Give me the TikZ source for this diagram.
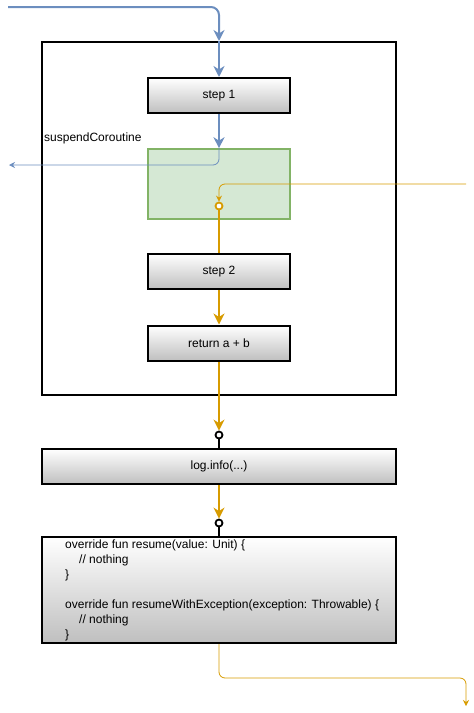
\documentclass[tikz,border=0pt]{standalone}
\usepackage{fontspec}
\setmainfont{Liberation Sans}
\usepackage{tikz}
\usetikzlibrary{arrows.meta,positioning}
\definecolor{flowblue}{HTML}{6C8EBF}
\definecolor{floworange}{HTML}{D79B00}
\definecolor{stategreen}{HTML}{82B366}
\definecolor{statefill}{HTML}{D5E8D4}
\tikzset{
  stepbox/.style={draw=black,line width=2pt,top color=white,bottom color=black!25,minimum width=142,minimum height=35,inner sep=0,font=\fontsize{12}{15}\selectfont},
  widebox/.style={stepbox,minimum width=354},
  frame/.style={draw=black,line width=2pt,minimum width=354,minimum height=353,inner sep=0},
  suspbox/.style={draw=stategreen,line width=1.6pt,fill=statefill,minimum width=142,minimum height=70,inner sep=0},
  port/.style={circle,draw=black,line width=1.8pt,fill=white,minimum size=7,inner sep=0},
  oport/.style={port,draw=floworange},
  lbl/.style={font=\fontsize{12}{15}\selectfont,inner sep=0},
  bluearr/.style={-{Stealth[length=11pt,width=11pt,inset=3.5pt]},draw=flowblue,line width=2pt},
  bluethin/.style={-{Stealth[length=6pt,width=6pt,inset=2pt]},draw=flowblue,line width=0.8pt},
  orangeline/.style={draw=floworange,line width=2pt},
  orangearr/.style={orangeline,-{Stealth[length=11pt,width=11pt,inset=3.5pt]}},
  orangethin/.style={-{Stealth[length=6pt,width=6pt,inset=2pt]},draw=floworange,line width=0.8pt},
  link/.style={draw=black,line width=2pt},
}
\begin{document}
\begin{tikzpicture}[x=1pt,y=-1pt]
  \useasboundingbox (0,0) rectangle (474,713);
  % coroutine body
  \node[frame] (outer) at (219,218.5) {};
  \node[stepbox] (step1) at (219,95.5) {step 1};
  \node[suspbox] (susp) at (219,184) {};
  \node[stepbox] (step2) at (219,271.5) {step 2};
  \node[stepbox] (ret) at (219,343) {return a + b};
  \node[lbl,anchor=west] (susplbl) at (44,138) {suspendCoroutine};
  \node[oport] (p1) at (219,206) {};
  % caller side
  \node[port] (p2) at (219,435) {};
  \node[widebox] (log) at (219,466.5) {log.info(...)};
  \node[port] (p3) at (219,523) {};
  \node[widebox,minimum height=106] (code) at (219,590) {};
  \node[lbl,anchor=west,align=left] (codetxt) at ([xshift=24]code.west) {override fun resume(value: Unit) \{\\
\hspace*{14pt}// nothing\\
\}\\[15pt]
override fun resumeWithException(exception: Throwable) \{\\
\hspace*{14pt}// nothing\\
\}};
  \coordinate (entry) at (8,7);
  \coordinate (exitl) at (9,165);
  \coordinate (resumein) at (466,184);
  \coordinate (done) at (466,706);
  % flow
  \draw[bluearr,rounded corners=8] (entry) -| (outer.north);
  \draw[bluearr] (outer.north) -- (step1.north);
  \draw[bluearr] (step1.south) -- (susp.north);
  \draw[bluethin,rounded corners=6] (susp.north) |- (exitl);
  \draw[orangethin,rounded corners=6] (resumein) -| (p1.north);
  \draw[orangeline] (p1.south) -- (step2.north);
  \draw[orangearr] (step2.south) -- (ret.north);
  \draw[orangearr] (ret.south) -- (p2.north);
  \draw[link] (p2.south) -- (log.north);
  \draw[orangearr] (log.south) -- (p3.north);
  \draw[link] (p3.south) -- (code.north);
  \draw[orangethin,rounded corners=6] (code.south) -- ++(0,34) -| (done);
\end{tikzpicture}
\end{document}
